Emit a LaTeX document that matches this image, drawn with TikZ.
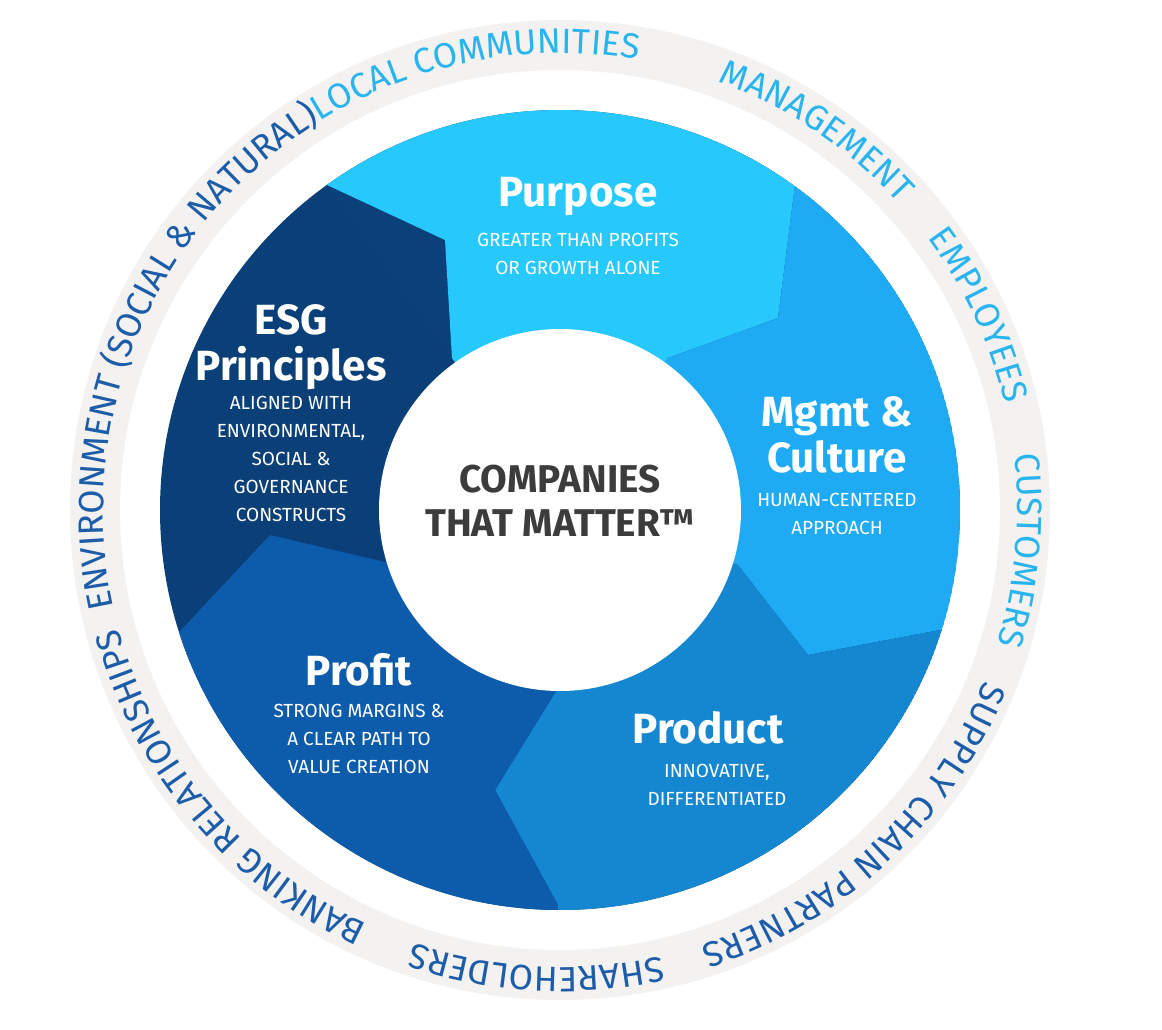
\documentclass[tikz,border=0pt]{standalone}
\usepackage{fontspec}
\setmainfont{Fira Sans}
\newfontfamily\ringfont{Fira Sans}[LetterSpace=9]
\usetikzlibrary{decorations.text}
\definecolor{ring}{HTML}{F3F2F1}
\definecolor{cpur}{HTML}{27C9FC}
\definecolor{cmgm}{HTML}{1FAAF4}
\definecolor{cprod}{HTML}{1586D0}
\definecolor{cprof}{HTML}{0D5BAB}
\definecolor{cesg}{HTML}{0A3F77}
\definecolor{tlight}{HTML}{2AB4EE}
\definecolor{tdark}{HTML}{1C5CA8}
\definecolor{ctr}{HTML}{3C3C3C}
\begin{document}
\begin{tikzpicture}[x=0.01cm,y=-0.01cm,
  ttl/.style={text=white,font=\fontsize{12}{13}\selectfont\bfseries,align=center},
  sub/.style={text=white,font=\fontsize{5.4}{7}\selectfont,align=center},
]
\useasboundingbox (0,0) rectangle (1162,1030);
\coordinate (c) at (560,510);
\fill[ring,even odd rule] (c) circle[radius=490] (c) circle[radius=440];
\begin{scope}
\clip (c) circle[radius=400];
\fill[cesg] (c) circle[radius=400];
\fill[cesg!92!cprof] (327,185) -- (452,358) -- (445,240) -- cycle;
\fill[cpur] (c) -- (452,358) -- (445,240) -- (327,185) -- (280,60) -- (860,60) -- (795,185) -- (778,318) -- (668,358) -- cycle;
\fill[cmgm] (c) -- (668,358) -- (778,318) -- (795,185) -- (860,60) -- (1100,200) -- (1100,620) -- (940,630) -- (808,655) -- (738,565) -- cycle;
\fill[cprod] (c) -- (738,565) -- (808,655) -- (940,630) -- (1100,620) -- (1100,1000) -- (558,1000) -- (558,905) -- (495,790) -- (558,688) -- cycle;
\fill[cprof] (c) -- (558,688) -- (495,790) -- (558,905) -- (558,1000) -- (100,1000) -- (140,672) -- (183,628) -- (270,535) -- (385,562) -- cycle;
\end{scope}
\fill[white] (c) circle[radius=181];
\begin{scope}[xshift=5.6cm,yshift=-5.1cm,x=0.01cm,y=0.01cm]
\def\R{457}
\newcommand\ringtext[3]{%
  \path[decorate,decoration={text along path,text align=center,
    text color=#3,text={#1}}]
    (#2+45:\R) arc[start angle=#2+45,end angle=#2-45,radius=\R];}
\begin{scope}[font=\ringfont\fontsize{6.9}{9}\selectfont]
\ringtext{LOCAL COMMUNITIES}{101}{tlight}
\ringtext{MANAGEMENT}{56}{tlight}
\ringtext{EMPLOYEES}{25}{tlight}
\ringtext{CUSTOMERS}{-5}{tlight}
\ringtext{SUPPLY CHAIN PARTNERS}{-47}{tdark}
\ringtext{SHAREHOLDERS}{-93}{tdark}
\ringtext{BANKING RELATIONSHIPS}{-140}{tdark}
\ringtext{ENVIRONMENT (SOCIAL {\&} NATURAL)}{157}{tdark}
\end{scope}
\end{scope}
\node[ttl] (tp) at (578,197) {Purpose};
\node[sub] (sp) at (578,254) {GREATER THAN PROFITS\\[1pt]OR GROWTH ALONE};
\node[ttl] (te) at (291,347) {ESG\\Principles};
\node[sub] (se) at (291,459) {ALIGNED WITH\\[1pt]ENVIRONMENTAL,\\[1pt]SOCIAL \&\\[1pt]GOVERNANCE\\[1pt]CONSTRUCTS};
\node[ttl] (tm) at (837,435) {Mgmt \&\\Culture};
\node[sub] (sm) at (837,514) {HUMAN-CENTERED\\[1pt]APPROACH};
\node[ttl] (tr) at (708,728) {Product};
\node[sub] (sr) at (717,785) {INNOVATIVE,\\[1pt]DIFFERENTIATED};
\node[ttl] (tf) at (359,670) {Profit};
\node[sub] (sf) at (359,739) {STRONG MARGINS \&\\[1pt]A CLEAR PATH TO\\[1pt]VALUE CREATION};
\node[text=ctr,font=\fontsize{11}{12.5}\selectfont\bfseries,align=center] (ct) at (560,501) {COMPANIES\\THAT MATTER™};
\end{tikzpicture}
\end{document}
